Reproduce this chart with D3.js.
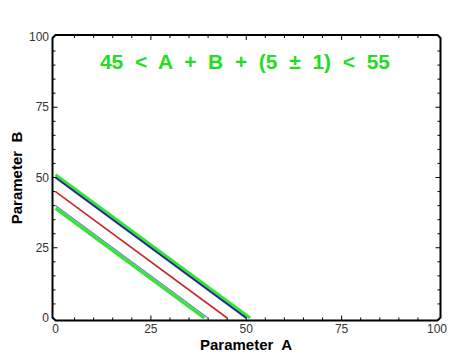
<!DOCTYPE html>
<html><head><meta charset="utf-8">
<script src="https://cdn.jsdelivr.net/npm/d3@7"></script>
<style>body{margin:0;background:#fff}svg{display:block}text{white-space:pre}</style>
</head><body>
<svg id="c" width="474" height="355"></svg>
<script>
const titleText = "45  <  A  +  B  +  (5  ±  1)  <  55";
const xLabel = "Parameter  A", yLabel = "Parameter  B";
const majorTicks = [0, 25, 50, 75, 100];
const minorTicks = d3.range(0, 101, 5);
// each line: A+B = sum -> from (0,sum) to (sum,0)
const lineNames = ["upperBand", "lowerBand", "upper", "middle", "lower"];
const lineSums = [51, 39, 50, 45, 40];
const lineColors = ["#33e633", "#33e633", "#1a2a8c", "#c8282a", "#6f8fb0"];
const lineWidths = [3.2, 3.2, 2, 1.6, 1.3];

const svg = d3.select("#c");
const x = d3.scaleLinear().domain([0, 100]).range([55.5, 437]);
const y = d3.scaleLinear().domain([0, 100]).range([318, 37]);
const L = 52.5, R = 440.5, T = 35, B = 320.5, ch = 3;

// frame with chamfered corners
svg.append("path")
  .attr("d", `M${L},${T+ch} L${L+ch},${T} L${R-ch},${T} L${R},${T+ch} L${R},${B-ch} L${R-ch},${B} L${L+ch},${B} L${L},${B-ch} Z`)
  .attr("fill", "none").attr("stroke", "#000").attr("stroke-width", 2);

const tk = svg.append("g").attr("stroke", "#000").attr("stroke-width", 1);
minorTicks.forEach(v => {
  const len = majorTicks.includes(v) ? 5 : 3;
  if (v > 0 && v < 100) {
    tk.append("line").attr("x1", x(v)).attr("x2", x(v)).attr("y1", B).attr("y2", B - len);
    tk.append("line").attr("x1", x(v)).attr("x2", x(v)).attr("y1", T).attr("y2", T + len);
    tk.append("line").attr("y1", y(v)).attr("y2", y(v)).attr("x1", L).attr("x2", L + len);
    tk.append("line").attr("y1", y(v)).attr("y2", y(v)).attr("x1", R).attr("x2", R - len);
  }
});

const font = "Arial, 'Liberation Sans', sans-serif";
svg.append("g").selectAll("text").data(majorTicks).join("text")
  .attr("x", d => x(d)).attr("y", 333).attr("text-anchor", "middle")
  .attr("font-family", font).attr("font-size", 12).attr("fill", "#333").text(d => d);
svg.append("g").selectAll("text").data(majorTicks).join("text")
  .attr("x", 49).attr("y", d => y(d) + 4).attr("text-anchor", "end")
  .attr("font-family", font).attr("font-size", 12).attr("fill", "#333").text(d => d);

svg.append("text").attr("x", 246).attr("y", 350).attr("text-anchor", "middle")
  .attr("font-family", font).attr("font-size", 15).attr("font-weight", "bold").text(xLabel);
svg.append("text").attr("transform", "translate(22,178) rotate(-90)").attr("text-anchor", "middle")
  .attr("font-family", font).attr("font-size", 15).attr("font-weight", "bold").text(yLabel);

svg.append("text").attr("x", 245).attr("y", 69).attr("text-anchor", "middle")
  .attr("font-family", font).attr("font-size", 21).attr("font-weight", "bold")
  .attr("fill", "#22dd22").text(titleText);

const line = d3.line().x(d => x(d[0])).y(d => y(d[1]));
lineSums.forEach((s, i) => {
  svg.append("path").attr("d", line([[0, s], [s, 0]]))
    .attr("fill", "none").attr("stroke", lineColors[i]).attr("stroke-width", lineWidths[i]);
});
</script>
</body></html>
